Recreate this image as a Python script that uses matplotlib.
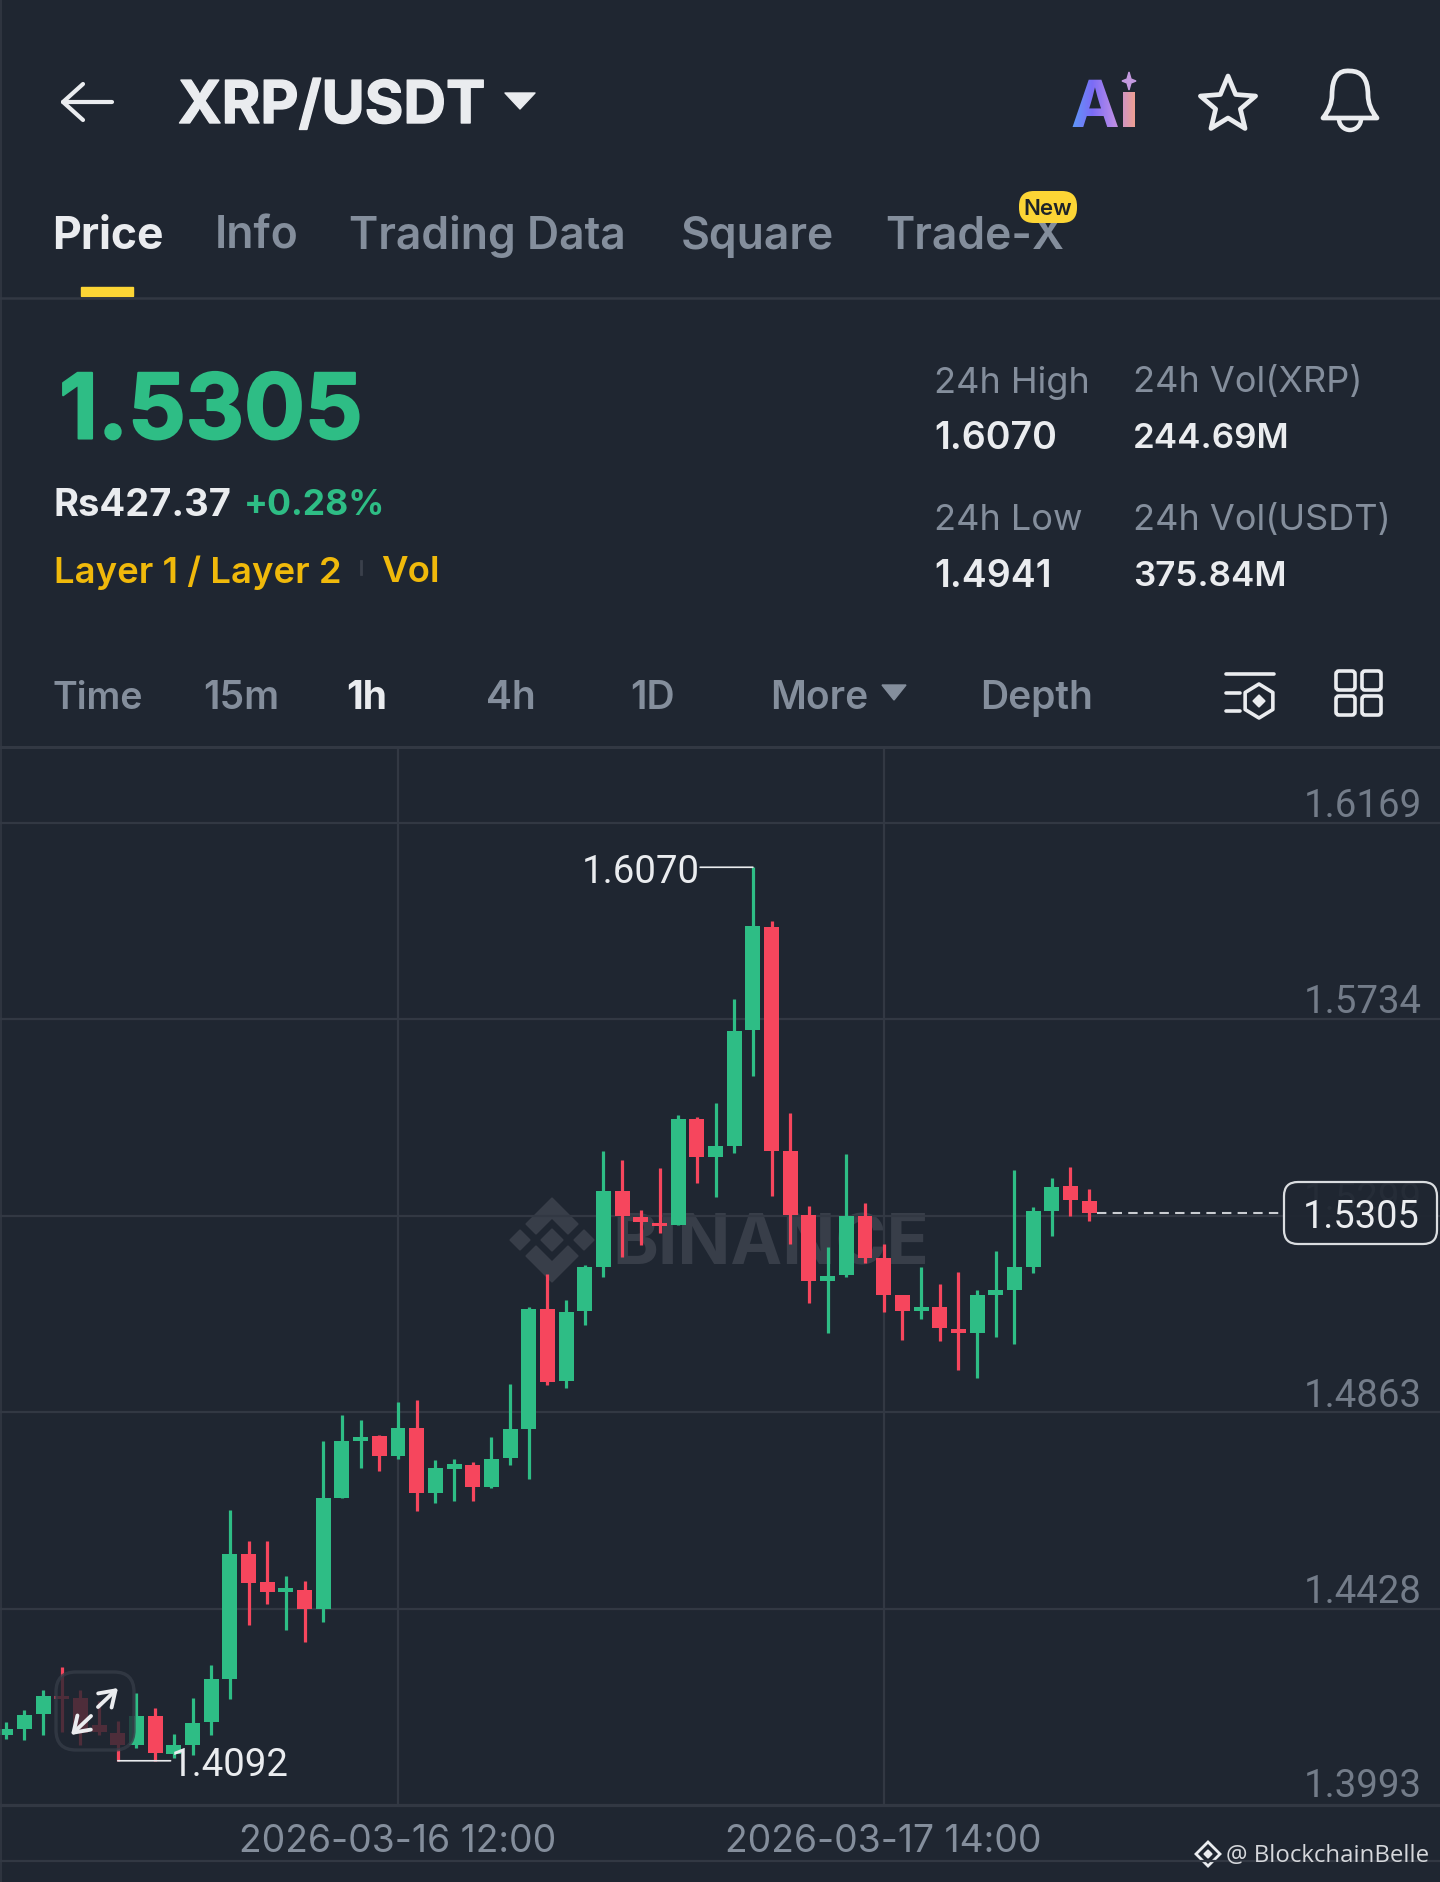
import matplotlib
matplotlib.use("Agg")
import matplotlib.pyplot as plt
import numpy as np
import matplotlib.patheffects as pe
from matplotlib.patches import FancyBboxPatch, Polygon, PathPatch, Rectangle, Arc
from matplotlib.path import Path
from matplotlib.textpath import TextPath
from matplotlib.font_manager import FontProperties
from matplotlib.transforms import Affine2D

plt.rcParams['font.family'] = ['Inter', 'DejaVu Sans']

# 1h candles
opens = [1.4148, 1.4163, 1.4196, 1.4235, 1.4232, 1.4171, 1.4154, 1.4126, 1.4192, 1.4108,
         1.4128, 1.4178, 1.4273, 1.4550, 1.4487, 1.4466, 1.4470, 1.4427, 1.4674, 1.4801,
         1.4810, 1.4767, 1.4828, 1.4684, 1.4739, 1.4747, 1.4698, 1.4763, 1.4827, 1.5092,
         1.4932, 1.5088, 1.5185, 1.5354, 1.5296, 1.5283, 1.5279, 1.5513, 1.5429, 1.5453,
         1.5709, 1.5938, 1.5442, 1.5300, 1.5153, 1.5167, 1.5299, 1.5205, 1.5124, 1.5088,
         1.5097, 1.5048, 1.5039, 1.5124, 1.5135, 1.5186, 1.5308, 1.5364, 1.5332]
highs = [1.4178, 1.4205, 1.4249, 1.4300, 1.4249, 1.4224, 1.4180, 1.4241, 1.4209, 1.4151,
         1.4232, 1.4303, 1.4648, 1.4578, 1.4578, 1.4501, 1.4491, 1.4799, 1.4858, 1.4847,
         1.4814, 1.4886, 1.4890, 1.4758, 1.4761, 1.4753, 1.4808, 1.4926, 1.5097, 1.5169,
         1.5113, 1.5189, 1.5442, 1.5423, 1.5311, 1.5404, 1.5521, 1.5518, 1.5548, 1.5779,
         1.6070, 1.5952, 1.5525, 1.5320, 1.5230, 1.5436, 1.5327, 1.5236, 1.5124, 1.5185,
         1.5147, 1.5173, 1.5135, 1.5220, 1.5399, 1.5317, 1.5382, 1.5407, 1.5357]
lows = [1.4141, 1.4139, 1.4148, 1.4156, 1.4127, 1.4149, 1.4092, 1.4120, 1.4092, 1.4099,
        1.4105, 1.4149, 1.4228, 1.4392, 1.4440, 1.4382, 1.4356, 1.4400, 1.4674, 1.4741,
        1.4734, 1.4759, 1.4645, 1.4662, 1.4667, 1.4666, 1.4695, 1.4746, 1.4715, 1.4923,
        1.4918, 1.5056, 1.5164, 1.5208, 1.5233, 1.5260, 1.5279, 1.5372, 1.5341, 1.5438,
        1.5608, 1.5342, 1.5236, 1.5105, 1.5040, 1.5164, 1.5195, 1.5085, 1.5023, 1.5071,
        1.5021, 1.4956, 1.4940, 1.5031, 1.5014, 1.5171, 1.5253, 1.5299, 1.5288]
closes = [1.4163, 1.4194, 1.4235, 1.4229, 1.4154, 1.4156, 1.4126, 1.4191, 1.4109, 1.4127,
          1.4176, 1.4272, 1.4550, 1.4486, 1.4466, 1.4474, 1.4427, 1.4673, 1.4800, 1.4809,
          1.4767, 1.4828, 1.4684, 1.4740, 1.4748, 1.4698, 1.4761, 1.4826, 1.5092, 1.4931,
          1.5085, 1.5184, 1.5354, 1.5298, 1.5285, 1.5275, 1.5513, 1.5429, 1.5453, 1.5708,
          1.5940, 1.5442, 1.5300, 1.5153, 1.5166, 1.5299, 1.5206, 1.5124, 1.5088, 1.5096,
          1.5049, 1.5039, 1.5124, 1.5134, 1.5186, 1.5308, 1.5363, 1.5334, 1.5305]

price_ticks = [1.6169, 1.5734, 1.5299, 1.4863, 1.4428, 1.3993]
time_ticks = [21, 47]
time_labels = ['2026-03-16 12:00', '2026-03-17 14:00']
tabs = ['Price', 'Info', 'Trading Data', 'Square', 'Trade-X']
intervals = ['Time', '15m', '1h', '4h', '1D', 'More', 'Depth']
last_price = 1.5305

BG = '#1F2631'
GRID = '#323843'
GREEN = '#2EBD85'
RED = '#F6465D'
WHITE = '#EAECEF'
GREY = '#848E9C'
YELLOW = '#FCD535'
GOLD = '#F0B90B'

W, H = 1440, 1883
fig = plt.figure(figsize=(14.4, 18.83), dpi=100, facecolor=BG)

# chart panel, y 749.5..1806.5 px
ax = fig.add_axes([0, 1 - 1806.5 / H, 1, (1806.5 - 749.5) / H], facecolor='none')
px = 0.00022137
ax.set_ylim(1.3993, 1.3993 + (1806.5 - 749.5) * px)
ax.set_xlim(21 - 398 / 18.68, 21 + 1042 / 18.68)
for s in ax.spines.values():
    s.set_visible(False)
ax.set_xticks([])
ax.set_yticks([])

for p in price_ticks:
    ax.axhline(p, color=GRID, lw=1.6, zorder=1)
    # bottom label sits a bit higher than the rest
    lift = 17.5 if p == price_ticks[-1] else 15.4
    ax.annotate(f'{p:.4f}', xy=(1, p), xycoords=('axes fraction', 'data'),
                xytext=(-13, lift), textcoords='offset points', ha='right', va='center_baseline',
                fontsize=27.6, family='Roboto', color='#737C89', zorder=2)
for t in time_ticks:
    ax.axvline(t, color=GRID, lw=1.6, zorder=1)

x = np.arange(len(opens))
o = np.array(opens)
c = np.array(closes)
cols = [GREEN if a >= b else RED for a, b in zip(c, o)]
ax.vlines(x, lows, highs, colors=cols, lw=2.3, zorder=4)
ax.bar(x, np.abs(c - o), bottom=np.minimum(o, c), width=0.8, color=cols, zorder=4)

# high and low callouts
i_hi = int(np.argmax(highs))
i_lo = int(np.argmin(lows))
line_kw = dict(arrowstyle='-', color=WHITE, lw=1.2, shrinkA=0, shrinkB=0)
for i, val, off, ha in [(i_hi, highs[i_hi], -38, 'right'), (i_lo, lows[i_lo], 38, 'left')]:
    ax.annotate('', xy=(i, val), xytext=(off, 0), textcoords='offset points',
                arrowprops=line_kw, zorder=6)
    ax.annotate(f'{val:.4f}', xy=(i, val), xytext=(off, 0), textcoords='offset points',
                ha=ha, va='center_baseline', fontsize=27.6, family='Roboto', color=WHITE, zorder=6)

# last price
ax.plot([x[-1] + 0.4, 68.4], [last_price, last_price], color='#C9CCD1', lw=1.5,
        dashes=(4.5, 3), zorder=3)

# everything that is app chrome goes in pixel coords
ui = fig.add_axes([0, 0, 1, 1], facecolor='none')
ui.set_xlim(0, W)
ui.set_ylim(H, 0)
ui.axis('off')


def label(px_x, px_y, s, size, color=WHITE, weight='normal', ha='left', z=5, stroke=0, family=None):
    t = ui.text(px_x, px_y + 3.5, s, fontsize=size, color=color, fontweight=weight,
                ha=ha, va='center', zorder=z)
    if family:
        t.set_family(family)
    if stroke:
        t.set_path_effects([pe.withStroke(linewidth=stroke, foreground=color)])


# watermark sits under the candles, so it goes on its own axes below
wm = fig.add_axes([0, 0, 1, 1], facecolor='none', zorder=-1)
wm.set_xlim(0, W)
wm.set_ylim(H, 0)
wm.axis('off')
WM = '#383E49'
cx, cy = 552, 1241
for dx, dy, r in [(0, 0, 11), (-32, 0, 10), (32, 0, 10)]:
    wm.add_patch(Polygon([(cx + dx - r, cy + dy), (cx + dx, cy + dy - r),
                          (cx + dx + r, cy + dy), (cx + dx, cy + dy + r)], color=WM))
for sgn in (-1, 1):
    wm.add_patch(Polygon([(cx, cy + sgn * 42), (cx + 26, cy + sgn * 16), (cx + 16, cy + sgn * 6),
                          (cx, cy + sgn * 22), (cx - 16, cy + sgn * 6), (cx - 26, cy + sgn * 16)],
                         color=WM))
wm.text(612, 1246, 'BINANCE', fontsize=50, color=WM, fontweight='bold', va='center')

# header
ui.plot([63, 112], [103, 103], color=WHITE, lw=3, solid_capstyle='round')
ui.plot([83, 63, 83], [85, 103, 121], color=WHITE, lw=3, solid_capstyle='round',
        solid_joinstyle='round')
label(178, 105, 'XRP/USDT', 42.5, weight='bold', stroke=1)
ui.add_patch(Polygon([(505, 94), (535, 94), (520, 110)], color=WHITE, joinstyle='round'))

# Ai logo, gradient clipped to an A and a stem (the sparkle is the dot)
tp = TextPath((0, 0), 'A', size=65, prop=FontProperties(family='Inter', weight='bold'))
stem = Path([(52, 0), (64, 0), (64, 35), (52, 35), (52, 0)],
            [Path.MOVETO, Path.LINETO, Path.LINETO, Path.LINETO, Path.CLOSEPOLY])
tr = Affine2D().scale(1, -1).translate(1071, 128) + ui.transData
patch = PathPatch(Path.make_compound_path(tp, stem), transform=tr, fc='none', ec='none')
ui.add_patch(patch)
grad = np.linspace(0, 1, 70).reshape(1, -1)
cmap = matplotlib.colors.LinearSegmentedColormap.from_list('ai', ['#5B9CF8', '#7B6CF6', '#B98CE8', '#F0A090'])
im = ui.imshow(grad, extent=(1070, 1136, 130, 78), cmap=cmap, aspect='auto', zorder=5)
im.set_clip_path(patch)
ui.add_patch(Polygon([(1129, 73), (1131, 80), (1136, 82), (1131, 84), (1129, 91),
                      (1127, 84), (1122, 82), (1127, 80)], color='#C49AE0', zorder=5))
ui.set_xlim(0, W)
ui.set_ylim(H, 0)

# star
ang = np.deg2rad(np.arange(10) * 36 - 90)
rad = np.array([29, 13] * 5)
ui.add_patch(Polygon(np.c_[1228 + rad * np.cos(ang), 106 + rad * np.sin(ang)], fill=False,
                     ec=WHITE, lw=3.4, joinstyle='round'))

# bell
bell = Path([(1323, 119), (1332, 108), (1332, 96), (1332, 70), (1350, 72), (1368, 72), (1368, 96),
             (1368, 108), (1377, 119), (1323, 119)],
            [Path.MOVETO, Path.CURVE3, Path.CURVE3, Path.CURVE3, Path.CURVE3, Path.CURVE3, Path.CURVE3,
             Path.CURVE3, Path.CURVE3, Path.CLOSEPOLY])
ui.add_patch(PathPatch(bell, fc='none', ec=WHITE, lw=3.4, joinstyle='round'))
ui.add_patch(Arc((1350, 120), 22, 22, theta1=0, theta2=180, ec=WHITE, lw=3.2))

# tabs
tab_x = [52, 215, 349, 681, 885]
for i, (name, tx) in enumerate(zip(tabs, tab_x)):
    label(tx, 233, name, 32, WHITE if i == 0 else GREY, 'bold' if i == 0 else 'semibold')
ui.add_patch(Rectangle((81, 288), 52, 9, color=YELLOW))
ui.plot([0, W], [298.5, 298.5], color=GRID, lw=1.8)
ui.add_patch(FancyBboxPatch((1019, 192), 58, 32, boxstyle='round,pad=0,rounding_size=15',
                            fc=YELLOW, ec='none', zorder=6))
label(1048, 205, 'New', 16, '#1E2329', 'semibold', 'center', z=7)

# price block
label(59, 412, '1.5305', 65, GREEN, 'bold', stroke=1.5)
label(54, 502, 'Rs427.37', 27.5, WHITE, 'bold')
label(244, 502, '+0.28%', 25.6, GREEN, 'bold')
label(54, 569, 'Layer 1 / Layer 2', 26.3, GOLD, 'semibold')
ui.plot([361, 361], [562, 575], color='#3A404B', lw=2)
label(381, 569, 'Vol', 26.3, GOLD, 'semibold')

stats = [(934, 379, '24h High', '1.6070'), (1133, 379, '24h Vol(XRP)', '244.69M'),
         (934, 517, '24h Low', '1.4941'), (1133, 517, '24h Vol(USDT)', '375.84M')]
for sx, sy, name, val in stats:
    label(sx, sy, name, 26, GREY)
    label(sx, sy + 56, val, 25.2 if val.endswith('M') else 27, WHITE, 'semibold')

# interval row
row_x = [53, 203, 346, 486, 630, 770, 980]
for name, rx in zip(intervals, row_x):
    if name == '1h':
        label(rx, 695, name, 28, WHITE, 'bold')
    else:
        label(rx, 695, name, 28 if name != 'Time' else 27, GREY, 'semibold')
ui.add_patch(Polygon([(882, 686), (906, 686), (894, 701)], color=GREY))

# list icon
for x0, x1, yy in [(1226, 1274, 675), (1226, 1240, 694), (1226, 1240, 712)]:
    ui.plot([x0, x1], [yy, yy], color=WHITE, lw=2.6, solid_capstyle='round')
ang = np.deg2rad(np.arange(6) * 60 + 90)
ui.add_patch(Polygon(np.c_[1259 + 16 * np.cos(ang), 702 + 17 * np.sin(ang)], fill=False, ec=WHITE,
                     lw=2.6, joinstyle='round'))
ui.add_patch(Polygon([(1259, 696), (1265, 702), (1259, 708), (1253, 702)], color=WHITE))
# grid icon
for gx in (1336, 1362):
    for gy in (672, 697):
        ui.add_patch(FancyBboxPatch((gx, gy), 19, 19, boxstyle='round,pad=0,rounding_size=3', fill=False,
                                    ec=WHITE, lw=2.6))
ui.plot([0, W], [748, 748], color=GRID, lw=2.2)

# current price box, covers the 1.5299 tick label
ui.add_patch(FancyBboxPatch((1284, 1183), 153, 62, boxstyle='round,pad=0,rounding_size=14', fc=BG,
                            ec=WHITE, lw=1.6, alpha=0.93, zorder=5))
ui.text(1361, 1214, f'{last_price:.4f}', fontsize=27.4, family='Roboto', color=WHITE,
        ha='center', va='center_baseline', zorder=6)

# expand button
ui.add_patch(FancyBboxPatch((56, 1673), 78, 78, boxstyle='round,pad=0,rounding_size=20', fc=BG,
                            ec='#363C48', lw=2.4, alpha=0.78, zorder=5))
for (x0, y0, x1, y1) in [(98, 1708, 118, 1689), (91, 1717, 71, 1736)]:
    ui.annotate('', xy=(x1, y1), xytext=(x0, y0), zorder=6,
                arrowprops=dict(arrowstyle='->,head_length=0.75,head_width=0.5', color=WHITE, lw=2.8,
                                shrinkA=0, shrinkB=0, mutation_scale=14))

# x axis strip
for t, name in zip(time_ticks, time_labels):
    ui.text(398 + (t - 21) * 18.68, 1842.5, name, fontsize=26.9, color=GREY, ha='center', va='center')
ui.plot([0, W], [1806.5, 1806.5], color=GRID, lw=1.6)
ui.plot([0, W], [1862, 1862], color=GRID, lw=1.6)
ui.plot([1, 1], [0, H], color=GRID, lw=1.2)

# watermark tag
ui.add_patch(Polygon([(1208, 1843), (1220, 1855), (1208, 1867), (1196, 1855)], fill=False, ec=WHITE, lw=2))
ui.add_patch(Polygon([(1208, 1851), (1212, 1855), (1208, 1859), (1204, 1855)], color=WHITE))
label(1226, 1853, '@ BlockchainBelle', 17.3, '#D5D7DB', family='Open Sans')

fig.savefig('out.png', dpi=100, facecolor=BG)
